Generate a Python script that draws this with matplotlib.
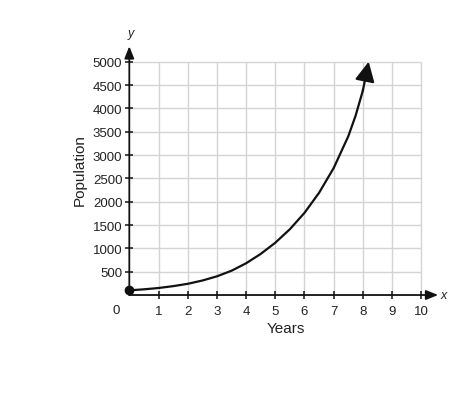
import matplotlib.pyplot as plt

plt.rcParams["font.family"] = ["Liberation Sans", "DejaVu Sans"]

years = [0, 0.5, 1, 1.5, 2, 2.5, 3, 3.5, 4, 4.5, 5, 5.5, 6, 6.5, 7, 7.5,
         7.75, 8]
population = [100, 122, 150, 190, 240, 310, 400, 520, 680, 880, 1120,
              1410, 1760, 2190, 2720, 3400, 3840, 4380]
arrow_tip = (8.2, 5000)
x_ticks = list(range(1, 11))
y_ticks = list(range(500, 5001, 500))

fig = plt.figure(figsize=(4.74, 4.06), dpi=100)
ax = fig.add_axes([0.2728, 0.2709, 0.659, 0.6207])
ax.set_xlim(0, 10.7)
ax.set_ylim(0, 5400)

grid_c = "#d4d4d4"
ax.vlines(x_ticks, 0, 5000, color=grid_c, lw=1.0, zorder=1)
ax.hlines(y_ticks, 0, 10, color=grid_c, lw=1.0, zorder=1)

for s in ax.spines.values():
    s.set_visible(False)

axis_kw = dict(arrowstyle="-|>,head_length=0.45,head_width=0.18",
               color="#111111", lw=1.3, shrinkA=0, shrinkB=0,
               mutation_scale=16)
ax.annotate("", xy=(10.58, 0), xytext=(0, 0), arrowprops=axis_kw,
            annotation_clip=False, zorder=3)
ax.annotate("", xy=(0, 5330), xytext=(0, 0), arrowprops=axis_kw,
            annotation_clip=False, zorder=3)

ax.set_xticks(x_ticks)
ax.set_yticks(y_ticks)
ax.tick_params(direction="inout", length=6, width=1.1, color="#111111",
               labelsize=9.5, labelcolor="#222222")
ax.tick_params(axis="x", pad=4)
ax.tick_params(axis="y", pad=2)
ax.text(-0.45, -330, "0", ha="center", va="center", fontsize=9.5,
        color="#222222")

ax.plot(years, population, color="#111111", lw=1.6, zorder=4,
        solid_joinstyle="round")
ax.annotate("", xy=arrow_tip, xytext=(years[-1], population[-1]),
            arrowprops=dict(arrowstyle="-|>,head_length=0.6,head_width=0.3",
                            color="#111111", lw=1.6, shrinkA=0, shrinkB=0,
                            mutation_scale=20),
            zorder=4)
ax.plot(years[0], population[0], "o", color="#111111", ms=6, zorder=5,
        clip_on=False)

ax.text(0.05, 5620, "y", ha="center", va="center", fontsize=9,
        style="italic", color="#222222")
ax.text(10.78, 0, "x", ha="center", va="center", fontsize=9,
        style="italic", color="#222222")

ax.set_xlabel("Years", fontsize=11, color="#222222", labelpad=3)
ax.set_ylabel("Population", fontsize=11, color="#222222", labelpad=4)

fig.savefig("out.png", dpi=100)
